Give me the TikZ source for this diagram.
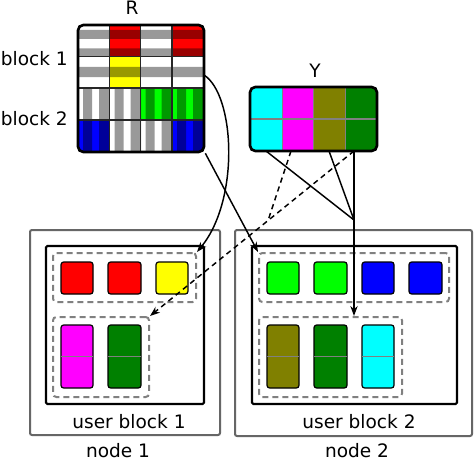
\documentclass[tikz,border=0pt]{standalone}
\usepackage{fontspec}
\setmainfont{DejaVu Sans}
\usetikzlibrary{arrows.meta,fit}
\definecolor{olivec}{HTML}{808000}
\definecolor{greenc}{HTML}{008000}
\definecolor{limec}{HTML}{00FF00}
\definecolor{cyanc}{HTML}{00FFFF}
\definecolor{magc}{HTML}{FF00FF}
\definecolor{redc}{HTML}{FF0000}
\definecolor{yelc}{HTML}{FFFF00}
\definecolor{bluec}{HTML}{0000FF}
\definecolor{graybox}{HTML}{666666}
\definecolor{dashgray}{HTML}{808080}
\begin{document}
\begin{tikzpicture}[x=0.75pt,y=-0.75pt,
  font=\fontsize{13.9}{16}\selectfont,
  outerbox/.style={draw=graybox, line width=1.5pt, rounded corners=1.5pt, inner sep=0pt},
  ublock/.style={draw=black, line width=1.6pt, rounded corners=1pt, inner sep=0pt},
  dbox/.style={draw=dashgray, line width=1.5pt, dash pattern=on 4.5pt off 3pt, rounded corners=2.5pt, inner sep=0pt},
  cell/.style={draw=black, line width=0.9pt, rounded corners=2pt, inner sep=0pt},
  midline/.style={draw=dashgray, line width=0.9pt},
  matbox/.style={draw=black, line width=2pt, rounded corners=4pt, inner sep=0pt},
  arr/.style={line width=1.1pt, -{Stealth[length=7.5pt,width=5.5pt]}},
  conn/.style={line width=1.1pt},
  dsh/.style={dash pattern=on 4pt off 3pt},
  lbl/.style={inner sep=0pt, anchor=base}]
\fill[white] (0,0) rectangle (474,460);
\useasboundingbox (0,0) rectangle (474,460);

% ---------- matrix R ----------
\begin{scope}
\clip[rounded corners=4pt] (78,25) rectangle (204,152);
\fill[white] (78,25) rectangle (204,152);
\fill[redc] (109.5,25) rectangle (140.5,56.5);
\fill[redc] (172,25) rectangle (204,56.5);
\fill[yelc] (109.5,56.5) rectangle (140.5,88);
\fill[limec] (140.5,88) rectangle (204,120);
\fill[bluec] (78,120) rectangle (109.5,152);
\fill[bluec] (172,120) rectangle (204,152);
\fill[black, opacity=0.4] (78,30) rectangle (204,39) (78,48.5) rectangle (204,56.5) (78,67) rectangle (204,77);
\foreach \c in {78,109.5,140.5,172}
  \fill[black, opacity=0.4] ({\c+5},88) rectangle ({\c+14},152) ({\c+21},88) rectangle ({\c+31.5},152);
\draw[line width=0.8pt, black!85] (109.5,25) -- (109.5,152) (140.5,25) -- (140.5,152) (172,25) -- (172,152)
  (78,56.5) -- (204,56.5) (78,88) -- (204,88) (78,120) -- (204,120);
\end{scope}
\node[matbox, fit={(78,25)(204,152)}] (R) {};

% ---------- matrix Y ----------
\begin{scope}
\clip[rounded corners=4pt] (250,87) rectangle (377,151);
\fill[cyanc] (250,87) rectangle (282,151);
\fill[magc] (282,87) rectangle (313,151);
\fill[olivec] (313,87) rectangle (345,151);
\fill[greenc] (345,87) rectangle (377,151);
\draw[line width=0.6pt, dashgray] (282,87) -- (282,151) (313,87) -- (313,151) (345,87) -- (345,151);
\draw[midline] (250,119) -- (377,119);
\end{scope}
\node[matbox, fit={(250,87)(377,151)}] (Y) {};

% ---------- labels ----------
\node[lbl] (tR) at (132,15) {R};
\node[lbl] (tY) at (315,78) {Y};
\node[inner sep=0pt, anchor=base east] (tb1) at (68,65) {block 1};
\node[inner sep=0pt, anchor=base east] (tb2) at (68,125) {block 2};

% ---------- node 1 ----------
\node[outerbox, fit={(30,230)(220,435)}] (n1) {};
\node[ublock, fit={(46,246)(204,404)}] (u1) {};
\node[dbox, fit={(53,253)(196,302)}] (d1) {};
\node[dbox, fit={(53,317)(149,397)}] (d2) {};
\node[cell, fill=redc, fit={(61,262)(93,294)}] (a1) {};
\node[cell, fill=redc, fit={(108,262)(141,294)}] (a2) {};
\node[cell, fill=yelc, fit={(156,262)(188,294)}] (a3) {};
\node[cell, fill=magc, fit={(61,325)(93,388)}] (b1) {};
\node[cell, fill=greenc, fit={(108,325)(141,388)}] (b2) {};
\draw[midline] ([xshift=0.6pt]b1.west) -- ([xshift=-0.6pt]b1.east);
\draw[midline] ([xshift=0.6pt]b2.west) -- ([xshift=-0.6pt]b2.east);
\node[lbl] (tu1) at (129,428) {user block 1};
\node[lbl] (tn1) at (118,457) {node 1};

% ---------- node 2 ----------
\node[outerbox, fit={(235,230)(472,436)}] (n2) {};
\node[ublock, fit={(252,246)(457,404)}] (u2) {};
\node[dbox, fit={(259,253)(449,302)}] (d3) {};
\node[dbox, fit={(259,317)(402,397)}] (d4) {};
\node[cell, fill=limec, fit={(267,262)(299,294)}] (c1) {};
\node[cell, fill=limec, fit={(314,262)(347,294)}] (c2) {};
\node[cell, fill=bluec, fit={(362,262)(394,294)}] (c3) {};
\node[cell, fill=bluec, fit={(409,262)(442,294)}] (c4) {};
\node[cell, fill=olivec, fit={(267,325)(299,388)}] (e1) {};
\node[cell, fill=greenc, fit={(314,325)(347,388)}] (e2) {};
\node[cell, fill=cyanc, fit={(362,325)(394,388)}] (e3) {};
\draw[midline] ([xshift=0.6pt]e1.west) -- ([xshift=-0.6pt]e1.east);
\draw[midline] ([xshift=0.6pt]e2.west) -- ([xshift=-0.6pt]e2.east);
\draw[midline] ([xshift=0.6pt]e3.west) -- ([xshift=-0.6pt]e3.east);
\node[lbl] (tu2) at (359,428) {user block 2};
\node[lbl] (tn2) at (357,457) {node 2};

% ---------- connectors ----------
\coordinate (rs) at (204,75);
\coordinate (yc) at (266,151);
\coordinate (ym) at (291,151);
\coordinate (yo) at (329,151);
\coordinate (yg) at (354,151);
\coordinate (j1) at (354,220);
\coordinate (j2) at (268,220.6);

\draw[arr] (rs) .. controls (235,95) and (240,200) .. (d1.north east);
\draw[arr] (R.south east) -- (d3.north west);
\draw[conn] (yc) -- (j1);
\draw[conn] (yo) -- (j1);
\draw[arr] (yg) -- (yg |- d4.north);
\draw[arr, dsh] (yg) -- (d2.north east);
\draw[conn, dsh] (ym) -- (j2);
\end{tikzpicture}
\end{document}
